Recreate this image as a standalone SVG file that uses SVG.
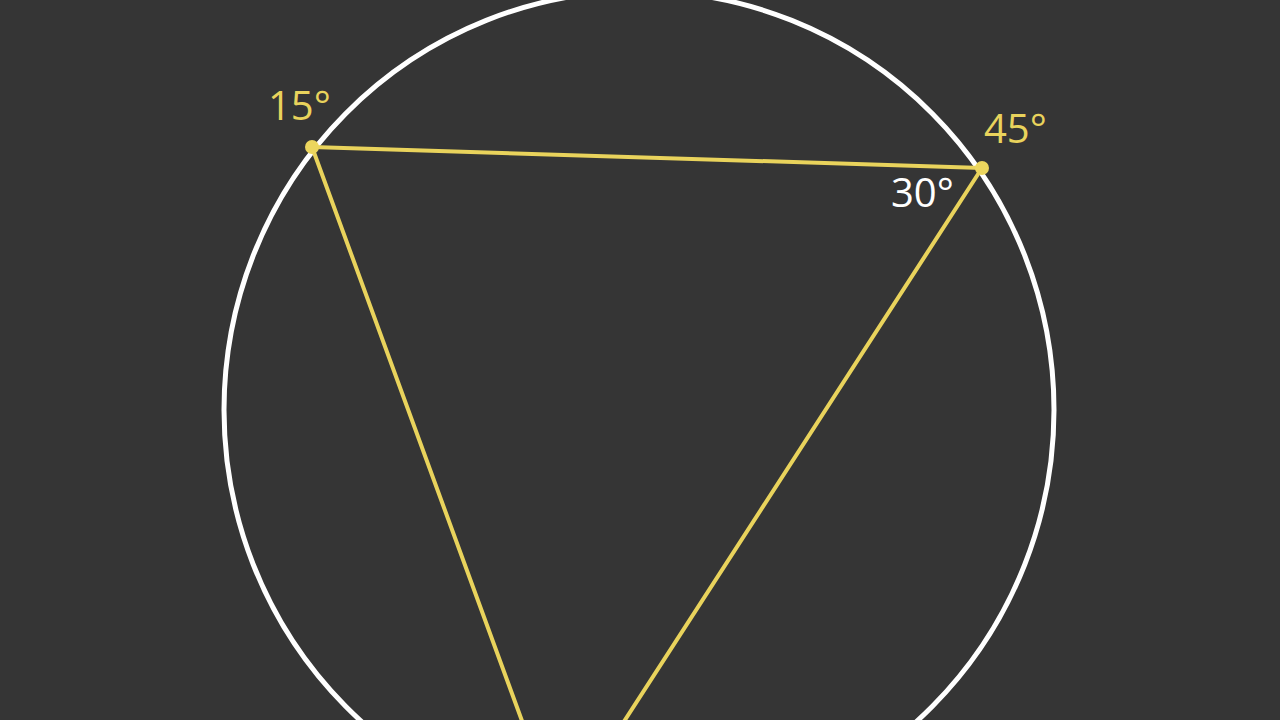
<svg xmlns="http://www.w3.org/2000/svg" width="1280" height="720" viewBox="0 0 1280 720">
  <style>
    .edge { stroke: #e9d35c; stroke-width: 4; fill: none; stroke-linecap: round; }
    .dot { fill: #ecd65e; }
    .lbl { font-family: "Open Sans", "Noto Sans", "DejaVu Sans", sans-serif; font-size: 40px; }
    .ylw { fill: #e9d35c; }
    .wht { fill: #ffffff; }
  </style>
  <rect width="1280" height="720" fill="#353535"/>
  <g id="circle">
    <ellipse cx="639" cy="410" rx="415" ry="419" fill="none" stroke="#ffffff" stroke-width="5"/>
  </g>
  <g id="connectors">
    <line class="edge" x1="312" y1="147" x2="982" y2="168"/>
    <line class="edge" x1="312" y1="147" x2="559" y2="822"/>
    <line class="edge" x1="982" y1="168" x2="559" y2="822"/>
  </g>
  <g id="pointA">
    <circle class="dot" cx="312" cy="147" r="7"/>
    <text class="lbl ylw" x="268" y="120">15°</text>
  </g>
  <g id="pointB">
    <circle class="dot" cx="982" cy="168" r="7"/>
    <text class="lbl ylw" x="984" y="143">45°</text>
    <text class="lbl wht" x="891" y="207">30°</text>
  </g>
</svg>
